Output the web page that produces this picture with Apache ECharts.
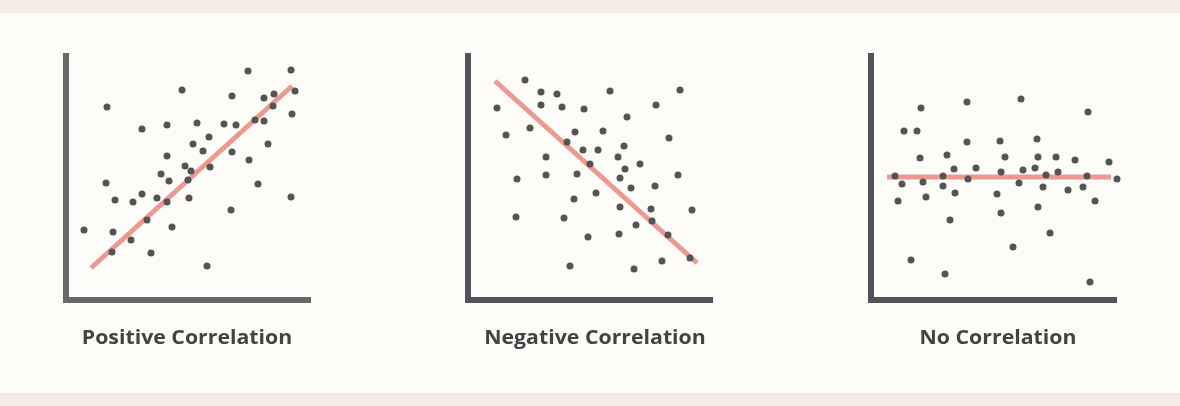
<!DOCTYPE html>
<html>
<head>
<meta charset="utf-8">
<script src="https://cdn.jsdelivr.net/npm/echarts@6/dist/echarts.min.js"></script>
<style>
html,body{margin:0;padding:0;background:#fdfcf8;}
#chart{width:1180px;height:406px;}
</style>
</head>
<body>
<div id="chart"></div>
<script>
// Panel titles
const titles = ['Positive Correlation', 'Negative Correlation', 'No Correlation'];

// Positive correlation points [x, y]
const positivePoints = [
  [18,70],[41,193],[40,117],[49,100],[47,68],[46,48],[65,60],[67,98],[76,171],[76,106],
  [81,80],[85,47],[91,102],[95,126],[101,175],[101,144],[103,119],[101,98],[106,73],[116,210],
  [119,134],[125,129],[122,120],[123,102],[127,156],[131,177],[137,149],[143,163],[144,133],[141,34],
  [158,176],[166,204],[170,175],[166,148],[165,90],[182,229],[183,140],[189,180],[192,116],[198,202],
  [198,179],[202,156],[207,194],[208,206],[225,230],[229,209],[226,186],[225,103]
];
const positiveTrend = [[25,32],[226,214]];

// Negative correlation points [x, y]
const negativePoints = [
  [57,220],[29,192],[38,165],[73,208],[89,206],[73,195],[94,193],[62,172],[116,191],[142,209],
  [212,210],[188,195],[159,183],[107,168],[135,169],[99,158],[115,150],[130,150],[156,154],[78,143],
  [150,143],[201,162],[122,136],[172,136],[157,131],[49,121],[78,125],[109,126],[152,122],[210,125],
  [163,112],[187,114],[128,107],[106,101],[152,93],[183,91],[224,90],[48,83],[96,82],[184,79],
  [168,75],[151,66],[120,63],[200,65],[194,39],[222,42],[102,34],[166,31]
];
const negativeTrend = [[27,219],[229,37]];

// No correlation points [x, y]
const noPoints = [
  [50,192],[33,169],[46,169],[49,142],[24,124],[31,116],[27,99],[52,118],[55,103],[40,40],
  [74,26],[76,145],[72,124],[72,114],[83,131],[84,107],[79,80],[96,198],[96,158],[97,121],
  [105,132],[129,159],[134,143],[130,128],[126,106],[130,87],[142,53],[150,201],[152,130],[148,117],
  [166,161],[167,143],[164,132],[175,125],[172,113],[167,93],[179,67],[185,143],[187,128],[197,110],
  [204,140],[212,113],[216,124],[217,188],[224,99],[219,18],[238,138],[246,121]
];
const noTrend = [[16,123],[240,123]];

const panels = [
  {left: 66, top: 56, w: 245, h: 244, axisColor: '#686868', pts: positivePoints, trend: positiveTrend, cx: 187},
  {left: 468, top: 56, w: 245, h: 244, axisColor: '#51555b', pts: negativePoints, trend: negativeTrend, cx: 595},
  {left: 871, top: 56, w: 246, h: 244, axisColor: '#51555b', pts: noPoints, trend: noTrend, cx: 998}
];

const grid = [], xAxis = [], yAxis = [], series = [], graphic = [];
panels.forEach((p, i) => {
  grid.push({left: p.left, top: p.top, width: p.w, height: p.h, containLabel: false});
  xAxis.push({gridIndex: i, type: 'value', min: 0, max: p.w,
    axisLine: {show: true, onZero: false, lineStyle: {color: p.axisColor, width: 6, cap: 'butt'}},
    axisTick: {show: false}, axisLabel: {show: false}, splitLine: {show: false}});
  yAxis.push({gridIndex: i, type: 'value', min: 0, max: p.h,
    axisLine: {show: true, onZero: false, lineStyle: {color: p.axisColor, width: 6, cap: 'square'}},
    axisTick: {show: false}, axisLabel: {show: false}, splitLine: {show: false}});
  series.push({
    type: 'line', xAxisIndex: i, yAxisIndex: i, data: p.trend, symbol: 'none', silent: true,
    lineStyle: {color: '#e9827b', width: 5, opacity: 0.82, cap: 'butt'}, z: 2
  });
  series.push({
    type: 'scatter', xAxisIndex: i, yAxisIndex: i, data: p.pts, symbolSize: 7, clip: false,
    itemStyle: {color: '#545454', opacity: 1}, z: 3
  });
  graphic.push({
    type: 'text', x: p.cx, y: 339, scaleX: 1.12,
    style: {text: titles[i], fill: '#434343', font: 'bold 19px "Open Sans", sans-serif', align: 'center', verticalAlign: 'middle'}
  });
});
graphic.push({type: 'rect', shape: {x: 0, y: 0, width: 1180, height: 13}, style: {fill: '#f4ebe4'}});
graphic.push({type: 'rect', shape: {x: 0, y: 393, width: 1180, height: 13}, style: {fill: '#f4ebe4'}});

const chart = echarts.init(document.getElementById('chart'), null, {renderer: 'canvas'});
chart.setOption({
  backgroundColor: '#fdfcf8',
  animation: false,
  grid, xAxis, yAxis, series, graphic
});
</script>
</body>
</html>
